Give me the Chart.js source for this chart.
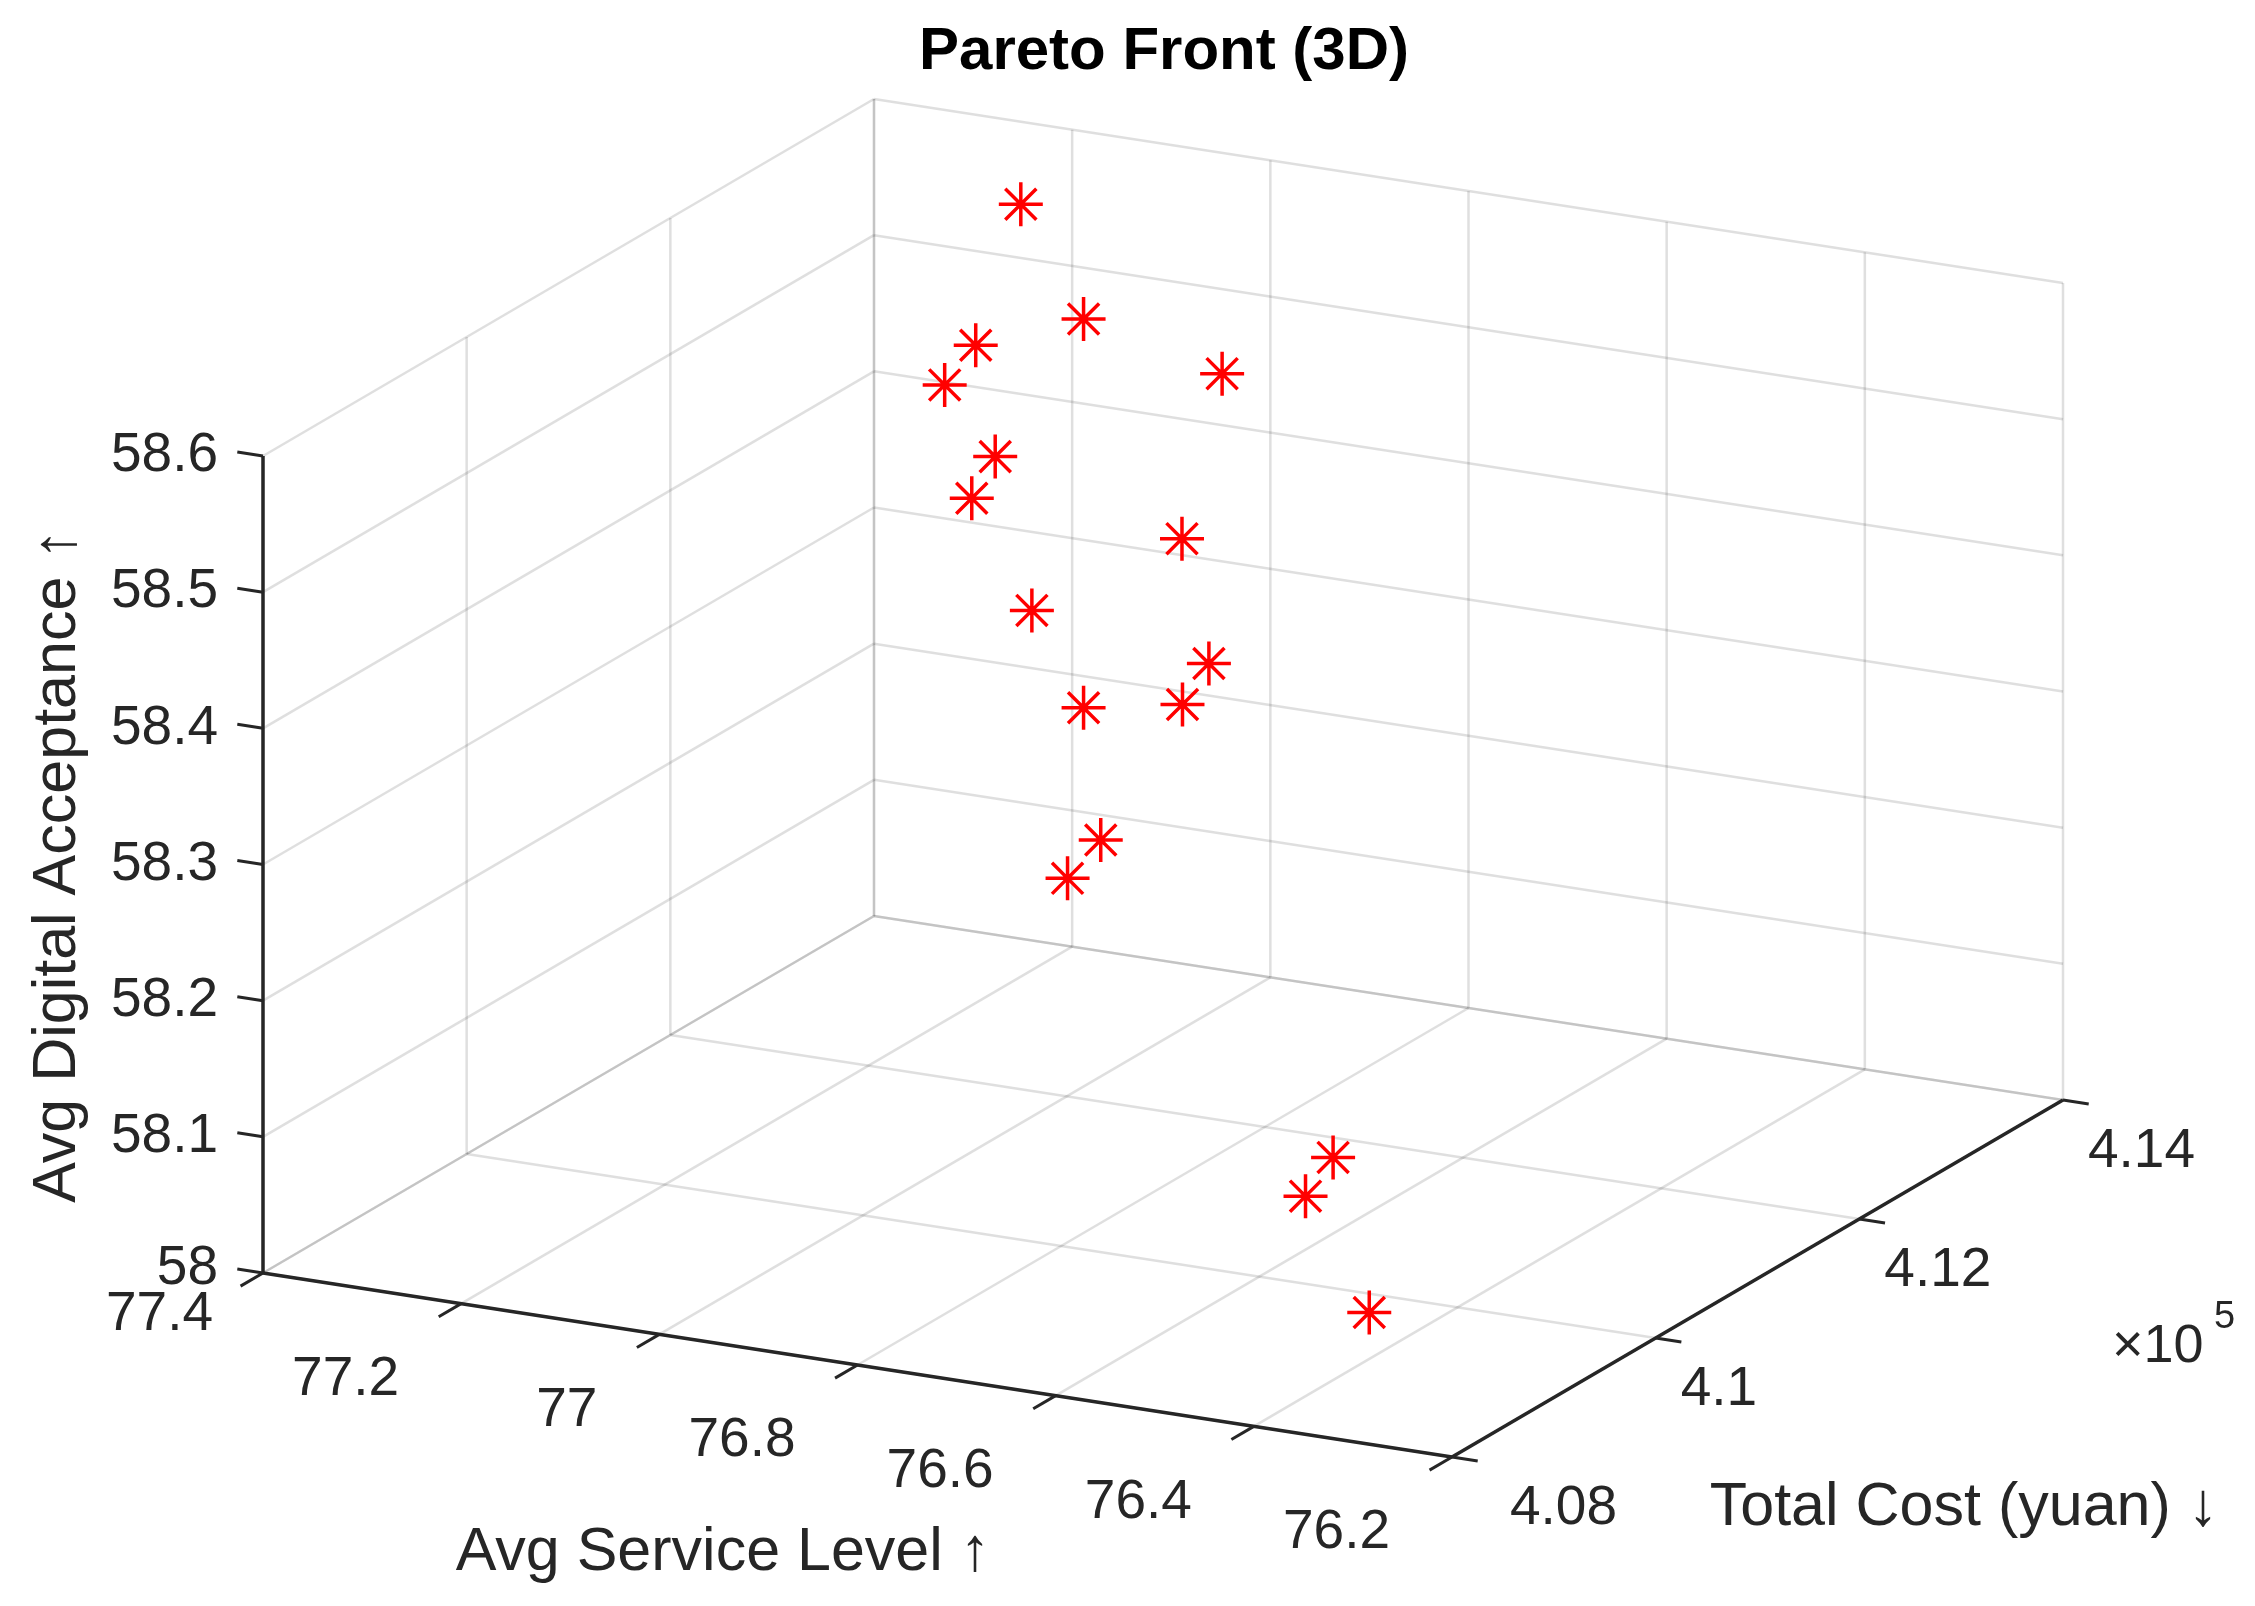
<!DOCTYPE html>
<html>
<head>
<meta charset="utf-8">
<title>Pareto Front (3D)</title>
<script src="https://cdn.jsdelivr.net/npm/chart.js@4.4.1/dist/chart.umd.min.js"></script>
<style>
  html, body { margin: 0; padding: 0; background: #fff; }
  #wrap { width: 2255px; height: 1606px; }
</style>
</head>
<body>
<div id="wrap"><canvas id="chart" width="2255" height="1606"></canvas></div>
<script>
// pareto set (one entry per solution)
const serviceLevel = [77.221, 77.096, 77.174, 76.987, 77.193, 77.105, 77.104, 76.935, 76.994,
  76.877, 76.911, 76.842, 76.832, 76.847, 76.505, 76.502, 76.376];
const totalCost = [413700, 413100, 412800, 413400, 412680, 412320, 412080, 412500, 411600,
  412200, 411300, 411600, 410700, 410520, 409800, 409500, 408900];
const digitalAcceptance = [58.556, 58.512, 58.497, 58.471, 58.471, 58.444, 58.424, 58.395, 58.375,
  58.323, 58.326, 58.323, 58.264, 58.242, 58.107, 58.092, 58.047];

// axes
const serviceTicks = [76.2, 76.4, 76.6, 76.8, 77, 77.2, 77.4];
const serviceTickLabels = ['76.2', '76.4', '76.6', '76.8', '77', '77.2', '77.4'];
const costTicks = [408000, 410000, 412000, 414000];
const costTickLabels = ['4.08', '4.1', '4.12', '4.14'];
const acceptTicks = [58, 58.1, 58.2, 58.3, 58.4, 58.5, 58.6];
const acceptTickLabels = ['58', '58.1', '58.2', '58.3', '58.4', '58.5', '58.6'];

const sLim = [76.2, 77.4];
const cLim = [408000, 414000];
const aLim = [58, 58.6];

// orthographic view (az -37.5 / el 30 look), in view units of the chart scales
const origin = { x: 1452, y: 1457 };      // service 76.2, cost 4.08, acceptance 58
const serviceDir = { x: -1189, y: -184 }; // whole service range
const costDir = { x: 611, y: -357 };      // whole cost range
const acceptDir = { x: 0, y: -817 };      // whole acceptance range

function project (s, c, a) {
  const u = (s - sLim[0]) / (sLim[1] - sLim[0]);
  const v = (c - cLim[0]) / (cLim[1] - cLim[0]);
  const w = (a - aLim[0]) / (aLim[1] - aLim[0]);
  return {
    x: origin.x + u * serviceDir.x + v * costDir.x + w * acceptDir.x,
    y: origin.y + u * serviceDir.y + v * costDir.y + w * acceptDir.y
  };
}

const points = serviceLevel.map((s, i) => project(s, totalCost[i], digitalAcceptance[i]));

const FONT = '"Liberation Sans", Arial, Helvetica, sans-serif';
const AXIS_COLOR = '#262626';

const box3d = {
  id: 'box3d',
  beforeDatasetsDraw (chart) {
    const ctx = chart.ctx;
    const xs = chart.scales.x;
    const ys = chart.scales.y;
    const px = p => ({ x: xs.getPixelForValue(p.x), y: ys.getPixelForValue(p.y) });
    const seg = (p1, p2) => {
      const a = px(p1), b = px(p2);
      ctx.beginPath();
      ctx.moveTo(a.x, a.y);
      ctx.lineTo(b.x, b.y);
      ctx.stroke();
    };
    const unit = (p1, p2) => {
      const a = px(p1), b = px(p2);
      const len = Math.hypot(b.x - a.x, b.y - a.y);
      return { x: (b.x - a.x) / len, y: (b.y - a.y) / len };
    };

    ctx.save();
    ctx.lineCap = 'butt';

    // grid on the three back planes
    ctx.strokeStyle = 'rgba(38,38,38,0.15)';
    ctx.lineWidth = 2.5;
    serviceTicks.forEach(s => seg(project(s, cLim[0], aLim[0]), project(s, cLim[1], aLim[0])));
    costTicks.forEach(c => seg(project(sLim[0], c, aLim[0]), project(sLim[1], c, aLim[0])));
    costTicks.forEach(c => seg(project(sLim[1], c, aLim[0]), project(sLim[1], c, aLim[1])));
    acceptTicks.forEach(a => seg(project(sLim[1], cLim[0], a), project(sLim[1], cLim[1], a)));
    serviceTicks.forEach(s => seg(project(s, cLim[1], aLim[0]), project(s, cLim[1], aLim[1])));
    acceptTicks.forEach(a => seg(project(sLim[0], cLim[1], a), project(sLim[1], cLim[1], a)));

    // axis lines
    ctx.strokeStyle = AXIS_COLOR;
    ctx.lineWidth = 3.5;
    seg(project(sLim[0], cLim[0], aLim[0]), project(sLim[1], cLim[0], aLim[0]));
    seg(project(sLim[0], cLim[0], aLim[0]), project(sLim[0], cLim[1], aLim[0]));
    seg(project(sLim[1], cLim[0], aLim[0]), project(sLim[1], cLim[0], aLim[1]));

    // tick directions
    const toHighService = unit(project(sLim[0], cLim[0], aLim[0]), project(sLim[1], cLim[0], aLim[0]));
    const toHighCost = unit(project(sLim[0], cLim[0], aLim[0]), project(sLim[0], cLim[1], aLim[0]));
    const tickLen = 26;

    ctx.lineWidth = 3;
    ctx.fillStyle = AXIS_COLOR;
    ctx.font = '55px ' + FONT;

    // service level ticks
    ctx.textAlign = 'right';
    ctx.textBaseline = 'middle';
    serviceTicks.forEach((s, i) => {
      const p = px(project(s, cLim[0], aLim[0]));
      ctx.beginPath();
      ctx.moveTo(p.x, p.y);
      ctx.lineTo(p.x - toHighCost.x * tickLen, p.y - toHighCost.y * tickLen);
      ctx.stroke();
      // the corner label sits higher, just under the 58 label
      const corner = i === serviceTicks.length - 1;
      ctx.fillText(serviceTickLabels[i], p.x + (corner ? -50 : -62), p.y + (corner ? 42 : 76));
    });

    // cost ticks
    ctx.textAlign = 'left';
    costTicks.forEach((c, i) => {
      const p = px(project(sLim[0], c, aLim[0]));
      ctx.beginPath();
      ctx.moveTo(p.x, p.y);
      ctx.lineTo(p.x - toHighService.x * tickLen, p.y - toHighService.y * tickLen);
      ctx.stroke();
      ctx.fillText(costTickLabels[i], p.x + (i === 0 ? 58 : 25), p.y + 52);
    });

    // acceptance ticks
    ctx.textAlign = 'right';
    acceptTicks.forEach((a, i) => {
      const p = px(project(sLim[1], cLim[0], a));
      ctx.beginPath();
      ctx.moveTo(p.x, p.y);
      ctx.lineTo(p.x + toHighService.x * tickLen, p.y + toHighService.y * tickLen);
      ctx.stroke();
      ctx.fillText(acceptTickLabels[i], p.x - 45, p.y - (i === 0 ? 4 : 0));
    });

    // exponent of the cost axis
    ctx.textAlign = 'left';
    ctx.font = '54px ' + FONT;
    ctx.fillText('\u00d710', xs.getPixelForValue(2112), ys.getPixelForValue(1347));
    ctx.font = '38px ' + FONT;
    ctx.fillText('5', xs.getPixelForValue(2214), ys.getPixelForValue(1318));

    // axis titles
    ctx.font = '61px ' + FONT;
    ctx.textAlign = 'center';
    ctx.fillText('Avg Service Level \u2191', xs.getPixelForValue(723), ys.getPixelForValue(1553));
    ctx.fillText('Total Cost (yuan) \u2193', xs.getPixelForValue(1964), ys.getPixelForValue(1508));
    ctx.save();
    ctx.translate(xs.getPixelForValue(58), ys.getPixelForValue(866));
    ctx.rotate(-Math.PI / 2);
    ctx.fillText('Avg Digital Acceptance \u2191', 0, 0);
    ctx.restore();

    // title
    ctx.fillStyle = '#000';
    ctx.font = 'bold 60px ' + FONT;
    ctx.fillText('Pareto Front (3D)', xs.getPixelForValue(1164), ys.getPixelForValue(52));

    ctx.restore();
  }
};

new Chart(document.getElementById('chart'), {
  type: 'scatter',
  data: {
    datasets: [{
      label: 'Pareto front',
      data: points,
      pointStyle: 'star',
      pointRadius: 22,
      pointHoverRadius: 22,
      borderColor: '#ff0000',
      backgroundColor: '#ff0000',
      borderWidth: 3.5,
      showLine: false
    }]
  },
  options: {
    responsive: false,
    animation: false,
    devicePixelRatio: 1,
    events: [],
    layout: { padding: 0, autoPadding: false },
    scales: {
      x: { type: 'linear', min: 0, max: 2255, display: false },
      y: { type: 'linear', min: 0, max: 1606, reverse: true, display: false }
    },
    plugins: {
      legend: { display: false },
      tooltip: { enabled: false }
    }
  },
  plugins: [box3d]
});
</script>
</body>
</html>
